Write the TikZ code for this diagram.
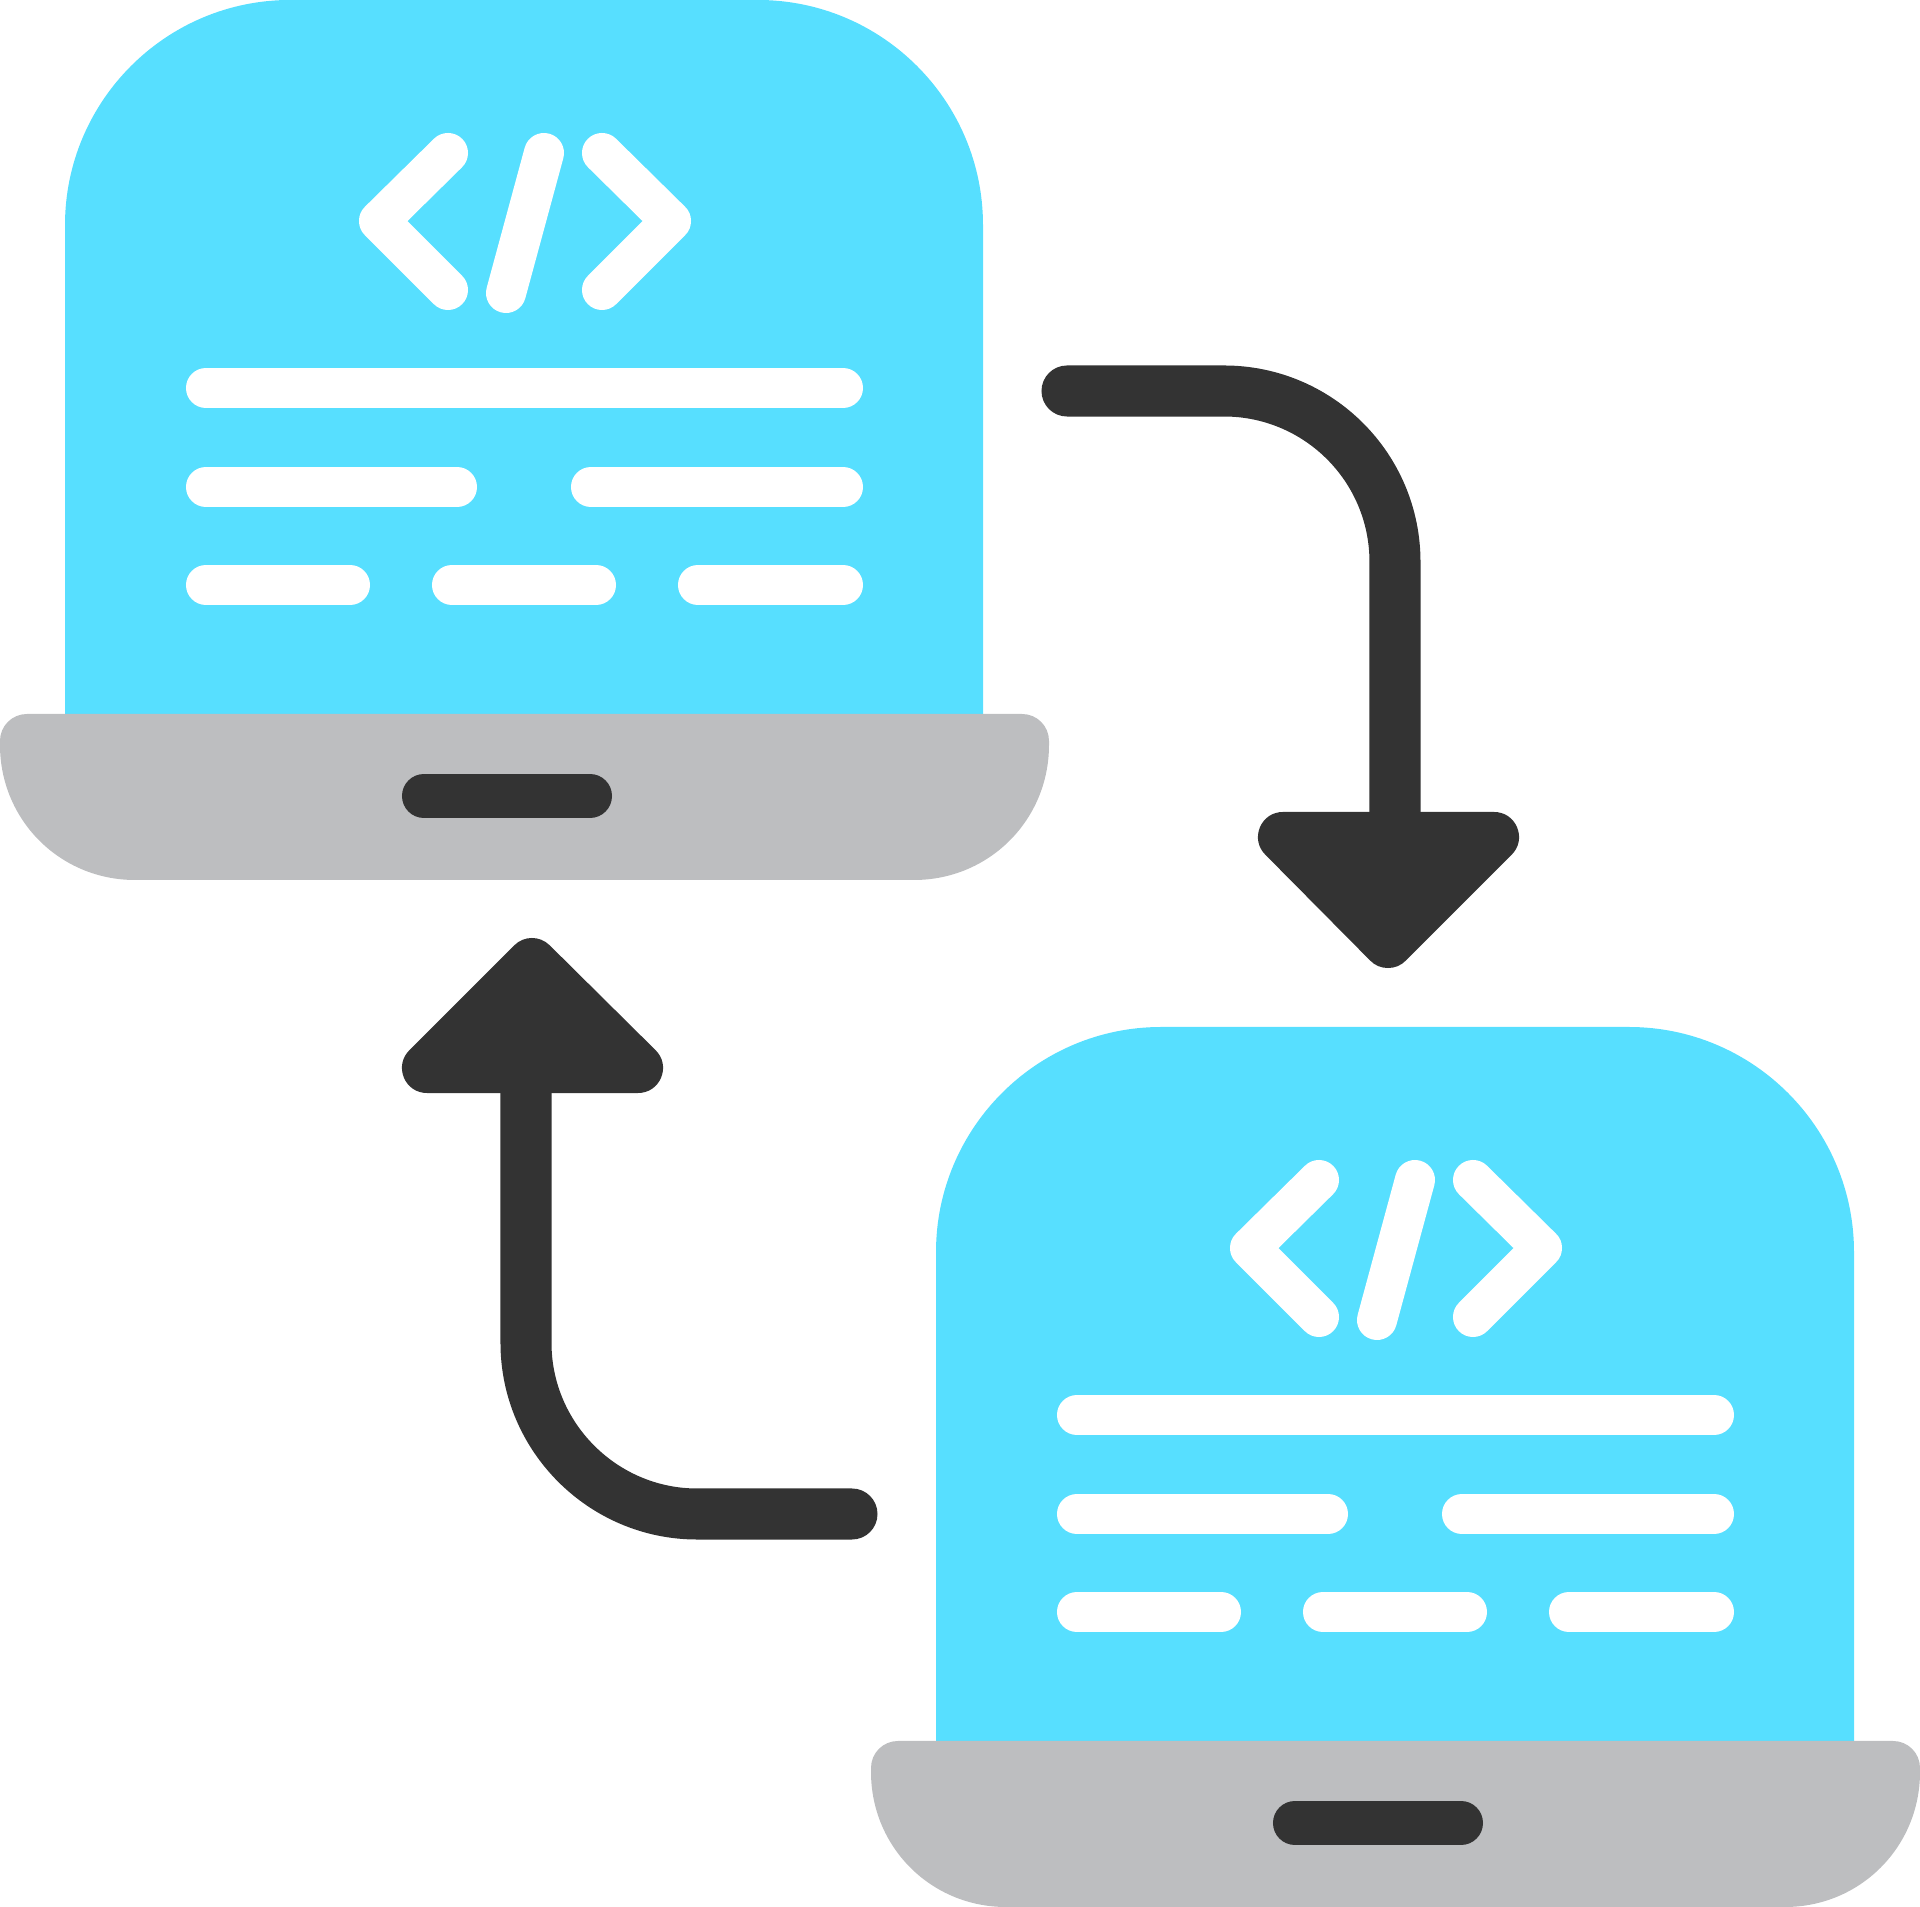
\documentclass[tikz,border=0pt]{standalone}
\usepackage{xcolor}
\definecolor{screenblue}{HTML}{57DFFF}
\definecolor{basegrey}{HTML}{BDBEC0}
\definecolor{darkgrey}{HTML}{333333}

\begin{document}
\begin{tikzpicture}
  [x=.01cm,y=-.01cm,
   codeline/.style={draw=white,line width=.4cm,line cap=round,line join=round},
   slit/.style={draw=darkgrey,line width=.44cm,line cap=round},
   stem/.style={draw=darkgrey,line width=.51cm,line cap=round},
   head/.style={draw=darkgrey,fill=darkgrey,line width=.5cm,line join=round}]
  \useasboundingbox (0,0) rectangle (1920,1907);

  \foreach \dx/\dy in {0/0,871/1027}
  {
    \begin{scope}[shift={(\dx,\dy)}]
      \fill[screenblue] (65,714) -- (65,225) .. controls (65,101) and (166,0) .. (290,0) -- (758,0)
        .. controls (882,0) and (983,101) .. (983,225) -- (983,714) -- cycle;
      \fill[basegrey] (0,745) -- (0,741) .. controls (0,726) and (12,714) .. (27,714) -- (1022,714)
        .. controls (1037,714) and (1049,726) .. (1049,741) -- (1049,745)
        .. controls (1049,820) and (989,880) .. (914,880) -- (135,880)
        .. controls (60,880) and (0,820) .. (0,745) -- cycle;
      \draw[slit] (424,796) -- (590,796);

      \draw[codeline] (448,153) -- (379,221) -- (448,290);
      \draw[codeline] (602,153) -- (671,221) -- (602,290);
      \draw[codeline] (544,153) -- (506,293);

      \foreach \from/\to/\yy in {206/843/388,206/457/487,591/843/487,206/350/585,452/596/585,698/843/585}
        \draw[codeline] (\from,\yy) -- (\to,\yy);
    \end{scope}
  }

  \draw[stem] (1067,391) -- (1224,391) .. controls (1318,391) and (1395,467) .. (1395,562) -- (1395,880);
  \filldraw[head] (1283,837) -- (1494,837) -- (1388,943) -- cycle;

  \draw[stem] (852,1514) -- (697,1514) .. controls (603,1514) and (526,1437) .. (526,1343) -- (526,1050);
  \filldraw[head] (427,1068) -- (638,1068) -- (532,963) -- cycle;

\end{tikzpicture}
\end{document}
